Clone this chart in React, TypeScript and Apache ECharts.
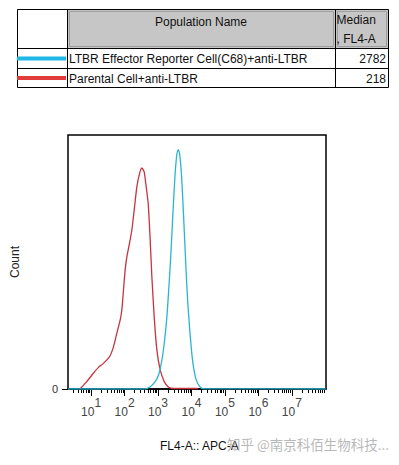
import React, { useEffect, useRef } from 'react';
import * as echarts from 'echarts';

// ---- table content ----
const populationNames = ['LTBR Effector Reporter Cell(C68)+anti-LTBR', 'Parental Cell+anti-LTBR'];
const medianValues = ['2782', '218'];
const headerName = 'Population Name';
const headerMedian = ['Median', ', FL4-A'];

// ---- axis ----
const majorExponents = [1, 2, 3, 4, 5, 6, 7];
const minorMultipliers = [2, 3, 4, 5, 6, 7, 8, 9];
const xAxisName = 'FL4-A:: APC-A';
const yAxisName = 'Count';
const watermark = '知乎 @南京科佰生物科技...';

// ---- histogram series (intensity, count) ----
const cyanIntensity = [2.04, 414, 584, 824, 1038, 1306, 1535, 1842, 2115, 2427, 2787, 3200, 3673, 4027, 4415, 5070, 5821, 6673, 7660, 9206, 11070, 13930, 18340, 23070, 1.04e8];
const cyanCount = [0, 0, 0.9, 2.9, 5.5, 11.4, 18.0, 28.4, 40.2, 53.3, 69.1, 83.5, 92.7, 94.2, 92.7, 83.5, 67.8, 50.7, 35.0, 20.6, 10.1, 3.5, 0.7, 0.1, 0];

const redIntensity = [4.9, 7.4, 11.7, 16.6, 23.4, 35.4, 46.7, 58.7, 73.8, 82.8, 92.9, 104, 117, 137, 165, 194, 233, 280, 329, 386, 443, 509, 584, 655, 769, 925, 1164, 1535, 2066, 2918, 14580, 15500];
const redCount = [0.3, 2.9, 6.2, 8.5, 10.1, 12.7, 16.6, 21.9, 27.1, 31.1, 38.9, 46.8, 52.0, 56.6, 62.5, 70.4, 79.6, 84.8, 87.0, 85.5, 79.6, 73.0, 58.6, 44.2, 28.4, 15.3, 7.5, 2.9, 0.7, 0.2, 0.2, 0];

const legendColors = ['#1db8e8', '#e23b3b'];
const lineColors = ['#29b4d6', '#c9323e'];

const X_MIN = 0.31;
const X_MAX = 8.02;
const FONT = 'Liberation Sans, Arial, sans-serif';

function App() {
  const ref = useRef<HTMLDivElement>(null);

  useEffect(() => {
    if (!ref.current) return;
    const chart = echarts.init(ref.current, null, { renderer: 'svg' });

    const minorTicks: number[] = [];
    for (let k = 0; k <= 8; k++) {
      for (const m of minorMultipliers) {
        const d = Math.log10(m * Math.pow(10, k));
        if (d >= X_MIN && d <= X_MAX) minorTicks.push(d);
      }
    }

    const toPairs = (xs: number[], ys: number[]) => xs.map((x, i) => [Math.log10(x), ys[i]]);

    const line = (x1: number, y1: number, x2: number, y2: number, stroke = '#000', lineWidth = 1) => ({
      type: 'line',
      silent: true,
      shape: { x1, y1, x2, y2 },
      style: { stroke, lineWidth },
    });
    const text = (t: string, x: number, y: number, align = 'left', size = 12, fill = '#111') => ({
      type: 'text',
      silent: true,
      x,
      y,
      style: {
        text: t,
        fontSize: size,
        fontFamily: FONT,
        fill,
        align,
        verticalAlign: 'middle',
        textAlign: align,
        textVerticalAlign: 'middle',
      },
    });

    const graphic: any[] = [
      // header gray cells
      { type: 'rect', silent: true, shape: { x: 68, y: 10, width: 267, height: 38 }, style: { fill: '#c6c6c6' } },
      { type: 'rect', silent: true, shape: { x: 336, y: 10, width: 52, height: 38 }, style: { fill: '#c6c6c6' } },
      { type: 'rect', silent: true, shape: { x: 69.5, y: 11.5, width: 264, height: 35 }, style: { fill: 'none', stroke: '#9e9e9e', lineWidth: 1 } },
      { type: 'rect', silent: true, shape: { x: 337.5, y: 11.5, width: 49, height: 35 }, style: { fill: 'none', stroke: '#9e9e9e', lineWidth: 1 } },
      // borders
      { type: 'rect', silent: true, shape: { x: 17.5, y: 9.5, width: 371, height: 78 }, style: { fill: 'none', stroke: '#000', lineWidth: 1 } },
      line(17.5, 48.5, 388.5, 48.5),
      line(17.5, 68.5, 388.5, 68.5),
      line(67.5, 9.5, 67.5, 87.5),
      line(335.5, 9.5, 335.5, 87.5),
      // legend swatches
      line(17, 58.5, 66, 58.5, legendColors[0], 4),
      line(17, 78, 66, 78, legendColors[1], 4),
      // texts
      text(headerName, 201, 22, 'center'),
      text(headerMedian[0], 336.5, 20),
      text(headerMedian[1], 336.5, 38.5),
      text(populationNames[0], 69, 59),
      text(populationNames[1], 69, 78.5),
      text(medianValues[0], 386, 59, 'right'),
      text(medianValues[1], 386, 78.5, 'right'),
      // x axis name + watermark
      text(xAxisName, 160, 446, 'left', 12, '#111'),
      {
        type: 'text',
        silent: true,
        x: 227,
        y: 444,
        style: {
          text: watermark,
          fontSize: 13.5,
          fontFamily: 'Noto Sans CJK SC, sans-serif',
          fill: 'rgba(165,165,165,0.8)',
          align: 'left',
          verticalAlign: 'middle',
          textAlign: 'left',
          textVerticalAlign: 'middle',
        },
      },
    ];

    chart.setOption({
      animation: false,
      backgroundColor: '#fff',
      grid: {
        left: 68,
        right: 73,
        top: 135,
        bottom: 76,
        show: true,
        borderColor: '#000',
        borderWidth: 1.5,
        backgroundColor: 'transparent',
      },
      xAxis: [
        {
          type: 'value',
          min: X_MIN,
          max: X_MAX,
          position: 'bottom',
          axisLine: { show: true, lineStyle: { color: '#000', width: 1.5 } },
          axisTick: { show: true, customValues: majorExponents, length: 7, lineStyle: { color: '#000', width: 1 } },
          axisLabel: {
            show: true,
            customValues: majorExponents,
            margin: 8,
            formatter: (v: number) => `{b|10}{s|${Math.round(v)}}`,
            rich: {
              b: { fontSize: 12, fontFamily: FONT, color: '#444', padding: [9, 0, 0, 0] },
              s: { fontSize: 12, fontFamily: FONT, color: '#444', padding: [0, 0, 9, 0] },
            },
          },
          splitLine: { show: false },
        },
        {
          type: 'value',
          min: X_MIN,
          max: X_MAX,
          position: 'bottom',
          axisLine: { show: false },
          axisTick: { show: true, customValues: minorTicks, length: 4, lineStyle: { color: '#000', width: 1 } },
          axisLabel: { show: false },
          splitLine: { show: false },
        },
      ],
      yAxis: {
        type: 'value',
        min: 0,
        max: 100,
        axisLine: { show: false },
        axisTick: { show: true, customValues: [0], length: 6, lineStyle: { color: '#000' } },
        axisLabel: { show: true, customValues: [0], color: '#333', fontSize: 11, fontFamily: FONT, margin: 10 },
        splitLine: { show: false },
        name: yAxisName,
        nameLocation: 'middle',
        nameRotate: 90,
        nameGap: 47,
        nameTextStyle: { fontSize: 12, color: '#222', fontFamily: FONT },
      },
      series: [
        {
          type: 'line',
          xAxisIndex: 0,
          data: toPairs(redIntensity, redCount),
          showSymbol: false,
          smooth: 0.2,
          lineStyle: { color: lineColors[1], width: 1.3 },
          itemStyle: { color: lineColors[1] },
          z: 3,
        },
        {
          type: 'line',
          xAxisIndex: 0,
          data: toPairs(cyanIntensity, cyanCount),
          showSymbol: false,
          smooth: 0.2,
          lineStyle: { color: lineColors[0], width: 1.3 },
          itemStyle: { color: lineColors[0] },
          z: 4,
        },
      ],
      graphic,
    });

    return () => chart.dispose();
  }, []);

  return (
    <div
      ref={ref}
      style={{ position: 'absolute', left: 0, top: 0, width: 399, height: 465, background: '#fff' }}
    />
  );
}

export default App;
